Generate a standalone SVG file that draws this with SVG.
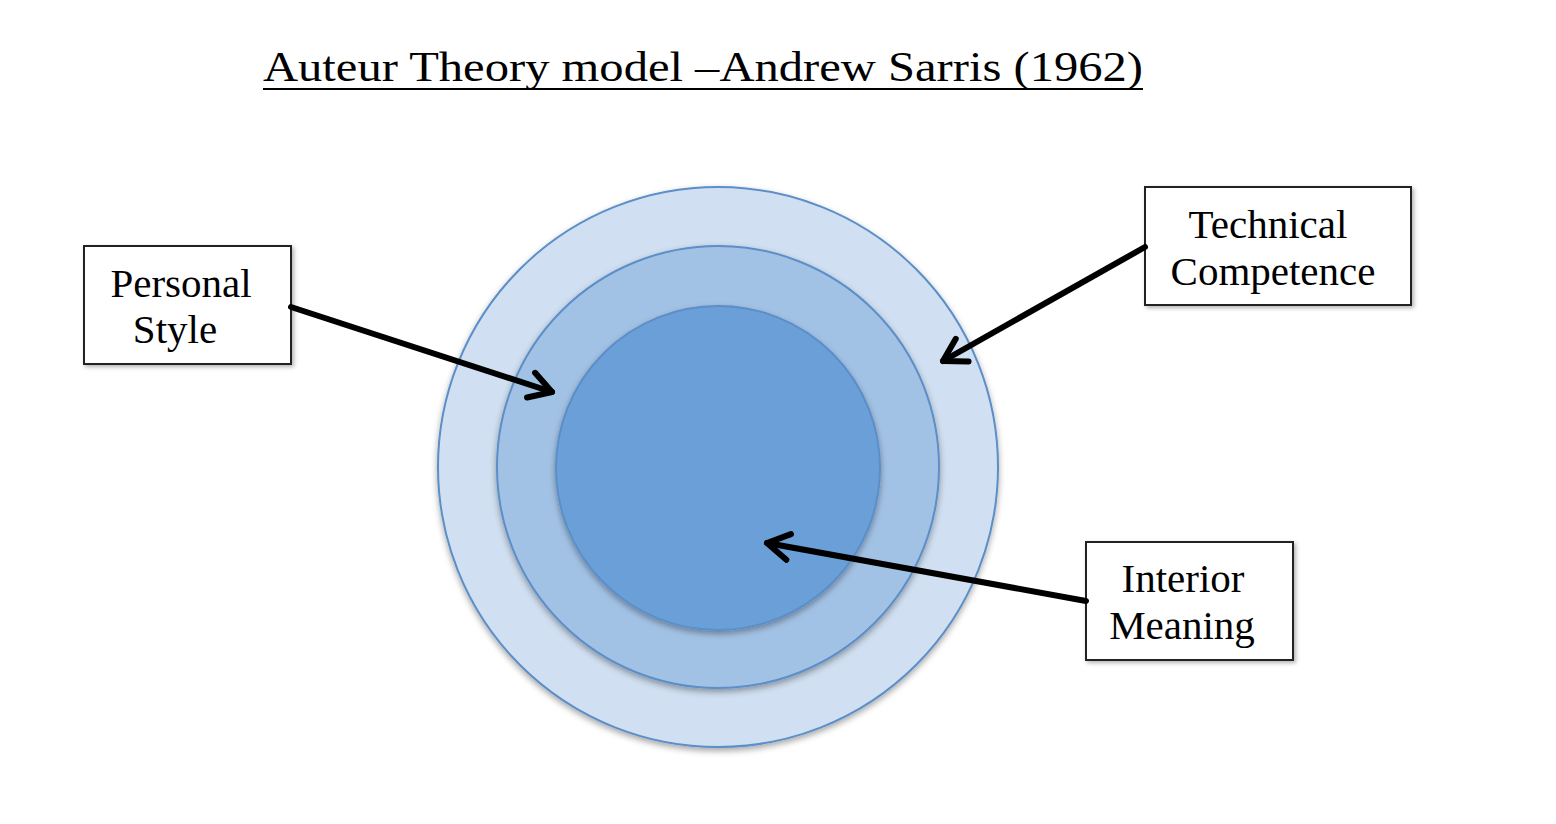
<svg xmlns="http://www.w3.org/2000/svg" width="1556" height="824" viewBox="0 0 1556 824">
<defs>
<style>
.lbl{font-family:"Liberation Serif","DejaVu Serif",serif;font-size:41px;fill:#000;text-anchor:middle}
.title{font-family:"Liberation Serif","DejaVu Serif",serif;font-size:42px;fill:#000}
.box{fill:#fff;stroke:#222;stroke-width:2}
.ring{stroke:#5b8ec8;stroke-width:2}
.conn{stroke:#000;stroke-width:6;fill:none;stroke-linecap:round}
</style>
<filter id="sh" x="-10%" y="-10%" width="120%" height="125%">
<feDropShadow dx="0" dy="3" stdDeviation="3" flood-color="#000" flood-opacity="0.35"/>
</filter>
<filter id="shb" x="-10%" y="-10%" width="125%" height="125%">
<feDropShadow dx="2" dy="2" stdDeviation="2" flood-color="#000" flood-opacity="0.3"/>
</filter>
<marker id="arr" markerUnits="userSpaceOnUse" markerWidth="40" markerHeight="40" refX="30" refY="20" orient="auto" overflow="visible">
<path d="M8 7 L30 20 L8 33" fill="none" stroke="#000" stroke-width="6" stroke-linecap="round" stroke-linejoin="round"/>
</marker>
</defs>
<rect width="1556" height="824" fill="#fff"/>
<g id="title">
<text class="title" x="263" y="81" textLength="880" lengthAdjust="spacingAndGlyphs">Auteur Theory model –Andrew Sarris (1962)</text>
<line x1="263" y1="89" x2="1143" y2="89" stroke="#000" stroke-width="2"/>
</g>
<g id="circles">
<circle id="outer" class="ring" cx="718" cy="467" r="280" fill="#d0dff1" filter="url(#sh)"/>
<circle id="middle" class="ring" cx="718" cy="467" r="221" fill="#a2c2e5" filter="url(#sh)"/>
<circle id="inner" class="ring" cx="718" cy="468" r="162" fill="#6a9fd8" filter="url(#sh)"/>
</g>
<g id="personal-style">
<rect class="box" x="84" y="246" width="207" height="118" filter="url(#shb)"/>
<text class="lbl" x="181" y="297">Personal</text>
<text class="lbl" x="175" y="343">Style</text>
</g>
<g id="technical-competence">
<rect class="box" x="1145" y="187" width="266" height="118" filter="url(#shb)"/>
<text class="lbl" x="1268" y="238">Technical</text>
<text class="lbl" x="1273" y="285">Competence</text>
</g>
<g id="interior-meaning">
<rect class="box" x="1086" y="542" width="207" height="118" filter="url(#shb)"/>
<text class="lbl" x="1183" y="592">Interior</text>
<text class="lbl" x="1182" y="639">Meaning</text>
</g>
<g id="connectors">
<line class="conn" x1="291" y1="307" x2="552" y2="392" marker-end="url(#arr)"/>
<line class="conn" x1="1145" y1="247" x2="943" y2="361" marker-end="url(#arr)"/>
<line class="conn" x1="1086" y1="601" x2="767" y2="543" marker-end="url(#arr)"/>
</g>
</svg>
